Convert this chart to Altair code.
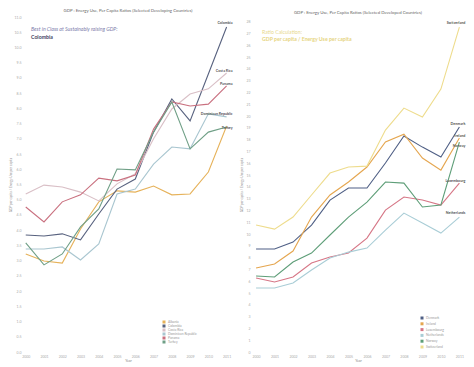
import altair as alt
import pandas as pd

years = list(range(2000, 2012))

# ---- Developing countries (left panel)
dev_names = ["Albania", "Colombia", "Costa Rica", "Dominican Republic", "Panama", "Turkey"]
albania = [3.22, 2.99, 2.92, 4.04, 4.93, 5.29, 5.25, 5.45, 5.16, 5.19, 5.91, 7.42]
colombia = [3.84, 3.81, 3.88, 3.68, 4.53, 5.35, 5.68, 7.22, 8.31, 7.59, 9.13, 10.67]
costa_rica = [5.19, 5.48, 5.42, 5.25, 4.96, 5.52, 5.85, 7.00, 7.98, 8.47, 8.64, 9.16]
dominican = [3.38, 3.38, 3.45, 3.02, 3.55, 5.19, 5.35, 6.17, 6.73, 6.67, 7.82, 7.72]
panama = [4.76, 4.27, 4.93, 5.16, 5.71, 5.62, 5.81, 7.32, 8.21, 8.08, 8.14, 8.74]
turkey = [3.58, 2.86, 3.22, 4.11, 4.70, 6.01, 5.98, 7.22, 8.21, 6.67, 7.22, 7.39]
dev_series = [albania, colombia, costa_rica, dominican, panama, turkey]
dev_labelled = ["Colombia", "Costa Rica", "Panama", "Dominican Republic", "Turkey"]
dev_ticks = [i * 0.5 for i in range(23)]

# ---- Developed countries (right panel)
devd_names = ["Denmark", "Ireland", "Luxembourg", "Netherlands", "Norway", "Switzerland"]
denmark = [8.73, 8.73, 9.32, 10.76, 12.88, 13.90, 13.90, 16.02, 18.31, 17.37, 16.53, 19.07]
ireland = [7.12, 7.46, 8.56, 11.44, 13.31, 14.41, 15.68, 17.80, 18.47, 16.44, 15.42, 18.14]
luxembourg = [6.27, 5.93, 6.36, 7.54, 8.05, 8.39, 9.66, 12.03, 13.14, 12.88, 12.46, 14.32]
netherlands = [5.42, 5.42, 5.85, 6.95, 7.97, 8.47, 8.81, 10.34, 11.78, 10.93, 10.08, 11.44]
norway = [6.44, 6.36, 7.63, 8.39, 9.92, 11.44, 12.71, 14.41, 14.32, 12.29, 12.46, 17.80]
switzerland = [10.76, 10.42, 11.44, 13.31, 15.17, 15.68, 15.76, 18.81, 20.68, 19.92, 22.29, 27.54]
devd_series = [denmark, ireland, luxembourg, netherlands, norway, switzerland]
devd_labelled = ["Switzerland", "Denmark", "Ireland", "Norway", "Luxembourg", "Netherlands"]
devd_ticks = list(range(29))

dev_colors = ["#e6b25a", "#58627f", "#d9bfc6", "#a9c6d0", "#c9707f", "#6f9f86"]
devd_colors = ["#4f5f85", "#e5a64f", "#d67686", "#a9cdd6", "#5e9e78", "#eedc8c"]

label_dy = {
    "Colombia": -4, "Costa Rica": -2, "Panama": -2, "Dominican Republic": -3, "Turkey": 1,
    "Switzerland": -4, "Denmark": -3, "Ireland": -2, "Norway": 4, "Luxembourg": -2, "Netherlands": -4,
}


def long_df(names, series):
    rows = []
    for n, s in zip(names, series):
        for y, v in zip(years, s):
            rows.append({"country": n, "year": y, "value": v})
    return pd.DataFrame(rows)


def panel(names, series, colors, labelled, ticks, ydom, yfmt, xdom, width, title,
          legend_box, notes):
    df = long_df(names, series)
    base = alt.Chart(df)
    x = alt.X("year:Q", scale=alt.Scale(domain=xdom, nice=False, zero=False),
              axis=alt.Axis(values=years, format="d", title="Year", labelFontSize=3.5,
                            titleFontSize=3.5, labelPadding=2, titlePadding=1,
                            labelColor="#aaa", titleColor="#888", domain=False,
                            ticks=False, grid=False, titleFontWeight="normal",
                            labelOverlap=False))
    y = alt.Y("value:Q", scale=alt.Scale(domain=ydom, nice=False, zero=True),
              axis=alt.Axis(values=ticks, format=yfmt,
                            title="GDP per capita / Energy Use per capita",
                            labelFontSize=3.5, titleFontSize=3.2, labelPadding=2,
                            titlePadding=2, labelColor="#aaa", titleColor="#888",
                            domain=False, ticks=False, grid=False,
                            titleFontWeight="normal", labelOverlap=False))
    color = alt.Color("country:N", scale=alt.Scale(domain=names, range=colors), legend=None)
    lines = base.mark_line(strokeWidth=1.1).encode(x=x, y=y, color=color)
    layers = [lines]
    for n in labelled:
        layers.append(
            base.transform_filter((alt.datum.country == n) & (alt.datum.year == 2011))
            .mark_text(align="right", dx=6, dy=label_dy[n], fontSize=3.6,
                       fontWeight="bold", color="#555")
            .encode(x=x, y=y, text="country:N"))
    for (txt, px, py, size, style, weight, col) in notes:
        layers.append(alt.Chart(pd.DataFrame({"t": [txt]})).mark_text(
            align="left", baseline="middle", fontSize=size, fontStyle=style,
            fontWeight=weight, color=col).encode(
            x=alt.value(px), y=alt.value(py), text="t:N"))
    main = alt.layer(*layers)

    # hand-built legend (compact, inside the plot area)
    lx, ly0, ly1 = legend_box
    leg_df = pd.DataFrame({"country": names})
    ly = alt.Y("country:N", sort=names,
               scale=alt.Scale(domain=names, range=[ly0, ly1], padding=0), axis=None)
    leg_sq = alt.Chart(leg_df).mark_square(size=9, opacity=1).encode(
        x=alt.value(lx), y=ly, color=color)
    leg_tx = alt.Chart(leg_df).mark_text(align="left", baseline="middle", fontSize=3.3,
                                         color="#999", dx=4).encode(
        x=alt.value(lx), y=ly, text="country:N")
    legend = alt.layer(leg_sq, leg_tx)

    return alt.layer(main, legend).resolve_scale(y="independent").properties(
        width=width, height=335,
        title=alt.TitleParams(title, fontSize=4.3, fontWeight="normal", color="#666",
                              offset=2, anchor="middle"))


left = panel(dev_names, dev_series, dev_colors, dev_labelled, dev_ticks, [0, 11], ".1f",
             [1999.85, 2011.35], 210,
             "GDP : Energy Use, Per Capita Ratios (Selected Developing Countries)",
             (141, 305, 325),
             [("Best in Class at Sustainably raising GDP:", 8, 12, 5.2, "italic", "normal", "#7d7cab"),
              ("Colombia", 8, 20, 5.2, "normal", "bold", "#3f3f5f")])

right = panel(devd_names, devd_series, devd_colors, devd_labelled, devd_ticks, [0, 28.4], "d",
              [1999.78, 2011.25], 212,
              "GDP : Energy Use, Per Capita Ratios (Selected Developed Countries)",
              (170, 301, 330),
              [("Ratio Calculation:", 10, 15, 5.2, "normal", "normal", "#e8d88c"),
               ("GDP per capita / Energy Use per capita", 10, 22, 5.2, "normal", "bold", "#e6d47e")])

chart = alt.hconcat(left, right, spacing=6).resolve_scale(color="independent").properties(
    padding=0, background="white"
).configure(font="Lato").configure_view(strokeWidth=0, stroke="transparent")

chart.save("out.html", embed_options={"renderer": "svg", "actions": False})
